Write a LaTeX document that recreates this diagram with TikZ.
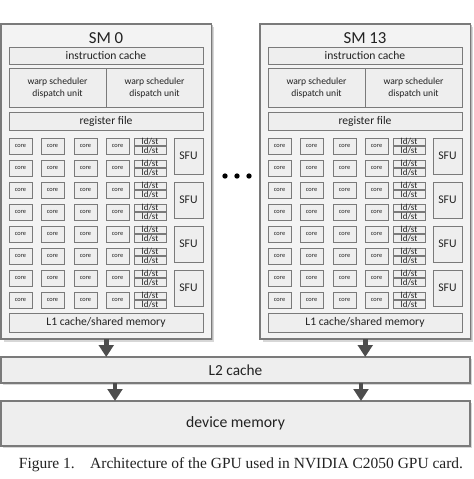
\documentclass[tikz,border=0pt]{standalone}
\usepackage{fontspec}
\setmainfont{Carlito}
\newfontfamily\capfont{Liberation Serif}
\usetikzlibrary{arrows.meta,shadows}
\definecolor{bord}{HTML}{7A7A7A}
\definecolor{boxfill}{HTML}{EEEEEE}
\definecolor{smfill}{HTML}{F3F3F3}
\definecolor{arr}{HTML}{4D4D4D}
\definecolor{shad}{HTML}{B0B0B0}
\definecolor{txt}{HTML}{222222}
\newcommand\bx[7]{\node[#6,minimum width={(#4-(#2))*0.75pt},minimum height={(#5-(#3))*0.75pt}] (#1) at ({((#2)+(#4))/2},{((#3)+(#5))/2}) {#7};}
\tikzset{
  base/.style={draw=bord,line width=0.6pt,fill=boxfill,inner sep=0pt,outer sep=0pt,text=txt,
     drop shadow={shadow xshift=1pt,shadow yshift=-1pt,fill=shad,opacity=0.8}},
  smbox/.style={base,fill=smfill,line width=0.8pt,drop shadow={shadow xshift=2pt,shadow yshift=-2pt,fill=shad}},
  midtext/.style={base,font=\fontsize{8.7}{10}\selectfont},
  warptext/.style={base,font=\fontsize{7.2}{9}\selectfont,align=center},
  coretext/.style={base,font=\fontsize{4.8}{5.5}\selectfont},
  ldtext/.style={base,font=\fontsize{6.8}{6.8}\selectfont},
  sfutext/.style={base,font=\fontsize{8.8}{10}\selectfont},
  bigbox/.style={base,line width=0.8pt,drop shadow={shadow xshift=1.5pt,shadow yshift=-1.5pt,fill=shad}},
  flow/.style={draw=arr,line width=3.5pt,-{Triangle[width=11pt,length=9pt]}},
  dotstyle/.style={circle,fill=black,inner sep=0pt,minimum size=4pt}
}
\begin{document}
\begin{tikzpicture}[x=0.75pt,y=-0.75pt]
\useasboundingbox (0,0) rectangle (474,479);
\foreach \ox/\s in {0/0,259/13}{
  \bx{sm\s}{\ox+1}{24}{\ox+211.5}{339}{smbox}{}
  \node[font=\fontsize{12.6}{14}\selectfont,text=txt,inner sep=0pt] (title\s) at (\ox+106,38) {SM \s};
  \bx{ic\s}{\ox+9}{47}{\ox+203}{64}{midtext}{instruction cache}
  \bx{wa\s}{\ox+9}{68}{\ox+106}{107}{warptext}{warp scheduler\\dispatch unit}
  \bx{wb\s}{\ox+106}{68}{\ox+203}{107}{warptext}{warp scheduler\\dispatch unit}
  \bx{rf\s}{\ox+9}{112}{\ox+203}{130}{midtext}{register file}
  \foreach \r in {0,...,7}{
    \pgfmathsetmacro{\yt}{138+22*\r}
    \foreach \cx [count=\k] in {9,41,74,106}{
      \bx{c\s-\r-\k}{\ox+\cx}{\yt}{\ox+\cx+23}{\yt+16}{coretext}{core}
    }
    \bx{la\s-\r}{\ox+134}{\yt}{\ox+166}{\yt+7.6}{ldtext}{ld/st}
    \bx{lb\s-\r}{\ox+134}{\yt+8.4}{\ox+166}{\yt+16}{ldtext}{ld/st}
  }
  \foreach \q in {0,...,3}{
    \pgfmathsetmacro{\ys}{138+44*\q}
    \bx{sfu\s-\q}{\ox+174}{\ys}{\ox+203}{\ys+36}{sfutext}{SFU}
  }
  \bx{lone\s}{\ox+9}{313}{\ox+203}{332}{midtext}{L1 cache/shared memory}
}
\node[dotstyle] (d1) at (225,176) {};
\node[dotstyle] (d2) at (237,176) {};
\node[dotstyle] (d3) at (249,176) {};
\bx{ltwo}{1}{357}{470}{383}{bigbox,font=\fontsize{11.5}{13}\selectfont}{L2 cache}
\bx{dev}{1}{401}{470}{446}{bigbox,font=\fontsize{11.8}{13}\selectfont}{device memory}
\draw[flow] (sm0.south) -- (sm0.south |- ltwo.north);
\draw[flow] (sm13.south) -- (sm13.south |- ltwo.north);
\coordinate (pa) at (115,383);
\coordinate (pb) at (361,383);
\draw[flow] (pa) -- (pa |- dev.north);
\draw[flow] (pb) -- (pb |- dev.north);
\node[font=\capfont\fontsize{11.6}{13}\selectfont,inner sep=0pt,text=txt] (cap) at (241,465) {Figure 1.\quad Architecture of the GPU used in NVIDIA C2050 GPU card.};
\end{tikzpicture}
\end{document}
